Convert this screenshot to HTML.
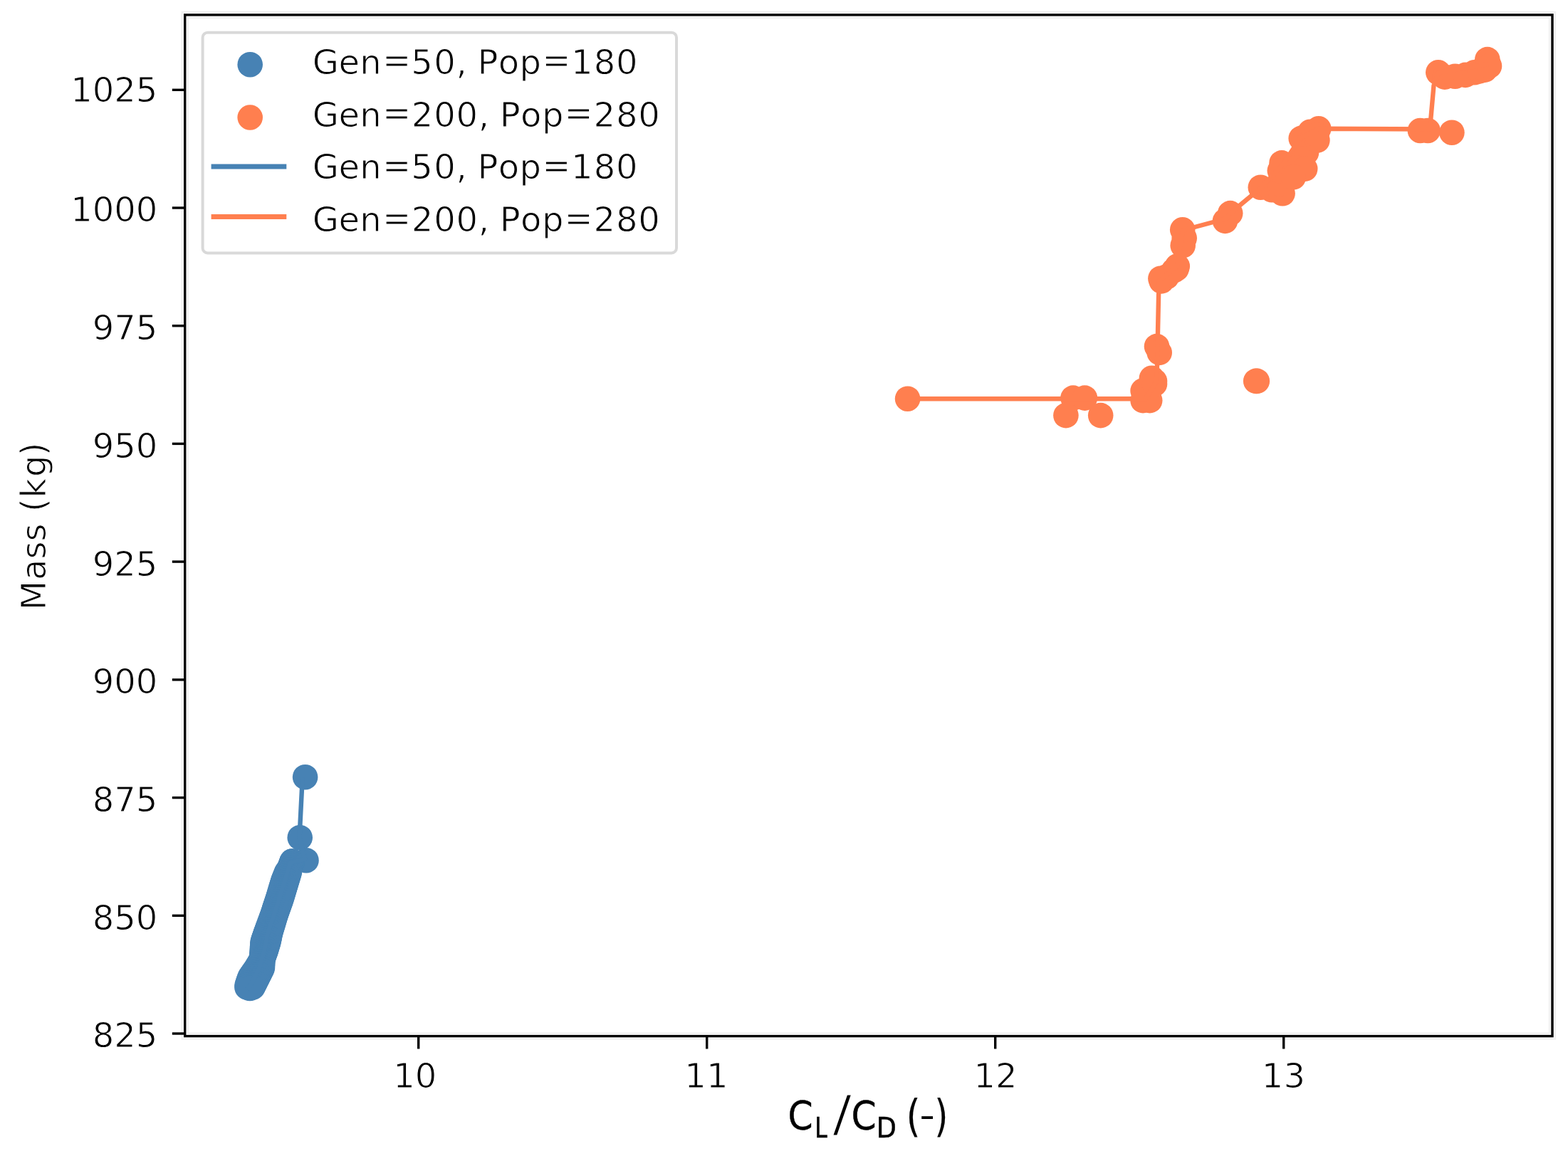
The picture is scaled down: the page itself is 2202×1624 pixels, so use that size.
<!DOCTYPE html>
<html lang="en"><head><meta charset="utf-8"><title>Mass vs CL/CD</title>
<style>
html,body{margin:0;padding:0;background:#fff;}
body{width:2202px;height:1624px;overflow:hidden;}
svg{display:block;}
</style></head><body>
<svg width="2202" height="1624" viewBox="0 0 2202 1624">
<rect width="2202" height="1624" fill="#fff"/>
<defs><filter id="soft" x="0" y="0" width="2202" height="1624" filterUnits="userSpaceOnUse"><feGaussianBlur stdDeviation="0.5"/></filter></defs>
<g filter="url(#soft)">
<rect width="2202" height="1624" fill="#fff"/>
<g fill="none" stroke="#f1f1f1" stroke-width="2.4"><rect x="255.7" y="16.9" width="1928.3" height="1442.6999999999998"/><rect x="263.7" y="24.9" width="1912.3" height="1426.6999999999998"/></g>
<g fill="#4682b4"><circle cx="428.6" cy="1091.7" r="17.8"/><circle cx="421.2" cy="1176.7" r="17.8"/><circle cx="430.0" cy="1208.7" r="17.8"/><circle cx="410.2" cy="1210.0" r="17.8"/><circle cx="410.2" cy="1210.0" r="17.8"/><circle cx="410.2" cy="1211.5" r="17.8"/><circle cx="409.1" cy="1213.0" r="17.8"/><circle cx="409.1" cy="1213.0" r="17.8"/><circle cx="409.1" cy="1214.5" r="17.8"/><circle cx="408.0" cy="1216.0" r="17.8"/><circle cx="408.0" cy="1216.0" r="17.8"/><circle cx="408.0" cy="1217.5" r="17.8"/><circle cx="406.8" cy="1219.0" r="17.8"/><circle cx="406.8" cy="1219.0" r="17.8"/><circle cx="406.8" cy="1220.5" r="17.8"/><circle cx="405.1" cy="1222.0" r="17.8"/><circle cx="406.4" cy="1222.0" r="17.8"/><circle cx="405.7" cy="1223.5" r="17.8"/><circle cx="402.7" cy="1225.0" r="17.8"/><circle cx="406.5" cy="1225.0" r="17.8"/><circle cx="404.6" cy="1226.5" r="17.8"/><circle cx="401.5" cy="1228.0" r="17.8"/><circle cx="405.6" cy="1228.0" r="17.8"/><circle cx="403.6" cy="1229.5" r="17.8"/><circle cx="400.3" cy="1231.0" r="17.8"/><circle cx="404.7" cy="1231.0" r="17.8"/><circle cx="402.5" cy="1232.5" r="17.8"/><circle cx="399.1" cy="1234.0" r="17.8"/><circle cx="403.8" cy="1234.0" r="17.8"/><circle cx="401.5" cy="1235.5" r="17.8"/><circle cx="397.9" cy="1237.0" r="17.8"/><circle cx="402.9" cy="1237.0" r="17.8"/><circle cx="400.4" cy="1238.5" r="17.8"/><circle cx="397.0" cy="1240.0" r="17.8"/><circle cx="402.0" cy="1240.0" r="17.8"/><circle cx="399.5" cy="1241.5" r="17.8"/><circle cx="396.1" cy="1243.0" r="17.8"/><circle cx="401.1" cy="1243.0" r="17.8"/><circle cx="398.6" cy="1244.5" r="17.8"/><circle cx="395.2" cy="1246.0" r="17.8"/><circle cx="400.2" cy="1246.0" r="17.8"/><circle cx="397.7" cy="1247.5" r="17.8"/><circle cx="394.3" cy="1249.0" r="17.8"/><circle cx="399.3" cy="1249.0" r="17.8"/><circle cx="396.8" cy="1250.5" r="17.8"/><circle cx="393.4" cy="1252.0" r="17.8"/><circle cx="398.4" cy="1252.0" r="17.8"/><circle cx="395.9" cy="1253.5" r="17.8"/><circle cx="392.5" cy="1255.0" r="17.8"/><circle cx="397.5" cy="1255.0" r="17.8"/><circle cx="395.0" cy="1256.5" r="17.8"/><circle cx="391.6" cy="1258.0" r="17.8"/><circle cx="396.6" cy="1258.0" r="17.8"/><circle cx="394.1" cy="1259.5" r="17.8"/><circle cx="390.7" cy="1261.0" r="17.8"/><circle cx="395.7" cy="1261.0" r="17.8"/><circle cx="393.2" cy="1262.5" r="17.8"/><circle cx="389.7" cy="1264.0" r="17.8"/><circle cx="394.7" cy="1264.0" r="17.8"/><circle cx="392.2" cy="1265.5" r="17.8"/><circle cx="388.7" cy="1267.0" r="17.8"/><circle cx="393.7" cy="1267.0" r="17.8"/><circle cx="391.2" cy="1268.5" r="17.8"/><circle cx="387.7" cy="1270.0" r="17.8"/><circle cx="392.6" cy="1270.0" r="17.8"/><circle cx="390.2" cy="1271.5" r="17.8"/><circle cx="386.7" cy="1273.0" r="17.8"/><circle cx="391.6" cy="1273.0" r="17.8"/><circle cx="389.1" cy="1274.5" r="17.8"/><circle cx="385.7" cy="1276.0" r="17.8"/><circle cx="390.5" cy="1276.0" r="17.8"/><circle cx="388.1" cy="1277.5" r="17.8"/><circle cx="384.8" cy="1279.0" r="17.8"/><circle cx="389.5" cy="1279.0" r="17.8"/><circle cx="387.1" cy="1280.5" r="17.8"/><circle cx="383.8" cy="1282.0" r="17.8"/><circle cx="388.4" cy="1282.0" r="17.8"/><circle cx="386.1" cy="1283.5" r="17.8"/><circle cx="382.8" cy="1285.0" r="17.8"/><circle cx="387.4" cy="1285.0" r="17.8"/><circle cx="385.1" cy="1286.5" r="17.8"/><circle cx="381.7" cy="1288.0" r="17.8"/><circle cx="386.4" cy="1288.0" r="17.8"/><circle cx="384.1" cy="1289.5" r="17.8"/><circle cx="380.6" cy="1291.0" r="17.8"/><circle cx="385.5" cy="1291.0" r="17.8"/><circle cx="383.0" cy="1292.5" r="17.8"/><circle cx="379.5" cy="1294.0" r="17.8"/><circle cx="384.6" cy="1294.0" r="17.8"/><circle cx="382.0" cy="1295.5" r="17.8"/><circle cx="378.4" cy="1297.0" r="17.8"/><circle cx="383.7" cy="1297.0" r="17.8"/><circle cx="381.0" cy="1298.5" r="17.8"/><circle cx="377.3" cy="1300.0" r="17.8"/><circle cx="382.8" cy="1300.0" r="17.8"/><circle cx="380.0" cy="1301.5" r="17.8"/><circle cx="376.2" cy="1303.0" r="17.8"/><circle cx="381.9" cy="1303.0" r="17.8"/><circle cx="379.0" cy="1304.5" r="17.8"/><circle cx="375.1" cy="1306.0" r="17.8"/><circle cx="381.0" cy="1306.0" r="17.8"/><circle cx="378.0" cy="1307.5" r="17.8"/><circle cx="374.0" cy="1309.0" r="17.8"/><circle cx="380.1" cy="1309.0" r="17.8"/><circle cx="377.0" cy="1310.5" r="17.8"/><circle cx="372.9" cy="1312.0" r="17.8"/><circle cx="379.3" cy="1312.0" r="17.8"/><circle cx="376.1" cy="1313.5" r="17.8"/><circle cx="371.9" cy="1315.0" r="17.8"/><circle cx="378.7" cy="1315.0" r="17.8"/><circle cx="375.3" cy="1316.5" r="17.8"/><circle cx="370.8" cy="1318.0" r="17.8"/><circle cx="378.1" cy="1318.0" r="17.8"/><circle cx="374.5" cy="1319.5" r="17.8"/><circle cx="369.8" cy="1321.0" r="17.8"/><circle cx="377.5" cy="1321.0" r="17.8"/><circle cx="373.7" cy="1322.5" r="17.8"/><circle cx="369.0" cy="1324.0" r="17.8"/><circle cx="376.8" cy="1324.0" r="17.8"/><circle cx="372.9" cy="1325.5" r="17.8"/><circle cx="368.8" cy="1327.0" r="17.8"/><circle cx="375.9" cy="1327.0" r="17.8"/><circle cx="372.4" cy="1328.5" r="17.8"/><circle cx="368.6" cy="1330.0" r="17.8"/><circle cx="375.0" cy="1330.0" r="17.8"/><circle cx="371.8" cy="1331.5" r="17.8"/><circle cx="368.4" cy="1333.0" r="17.8"/><circle cx="374.1" cy="1333.0" r="17.8"/><circle cx="371.3" cy="1334.5" r="17.8"/><circle cx="368.3" cy="1336.0" r="17.8"/><circle cx="373.2" cy="1336.0" r="17.8"/><circle cx="370.7" cy="1337.5" r="17.8"/><circle cx="368.0" cy="1339.0" r="17.8"/><circle cx="372.1" cy="1339.0" r="17.8"/><circle cx="370.0" cy="1340.5" r="17.8"/><circle cx="367.7" cy="1342.0" r="17.8"/><circle cx="371.0" cy="1342.0" r="17.8"/><circle cx="369.3" cy="1343.5" r="17.8"/><circle cx="367.4" cy="1345.0" r="17.8"/><circle cx="370.0" cy="1345.0" r="17.8"/><circle cx="368.7" cy="1346.5" r="17.8"/><circle cx="367.0" cy="1348.0" r="17.8"/><circle cx="368.9" cy="1348.0" r="17.8"/><circle cx="368.0" cy="1349.5" r="17.8"/><circle cx="365.2" cy="1351.0" r="17.8"/><circle cx="368.8" cy="1351.0" r="17.8"/><circle cx="367.0" cy="1352.5" r="17.8"/><circle cx="363.4" cy="1354.0" r="17.8"/><circle cx="368.7" cy="1354.0" r="17.8"/><circle cx="366.0" cy="1355.5" r="17.8"/><circle cx="361.6" cy="1357.0" r="17.8"/><circle cx="368.5" cy="1357.0" r="17.8"/><circle cx="365.1" cy="1358.5" r="17.8"/><circle cx="359.8" cy="1360.0" r="17.8"/><circle cx="368.4" cy="1360.0" r="17.8"/><circle cx="364.1" cy="1361.5" r="17.8"/><circle cx="357.7" cy="1363.0" r="17.8"/><circle cx="367.0" cy="1363.0" r="17.8"/><circle cx="362.4" cy="1364.5" r="17.8"/><circle cx="355.6" cy="1366.0" r="17.8"/><circle cx="365.5" cy="1366.0" r="17.8"/><circle cx="360.6" cy="1367.5" r="17.8"/><circle cx="353.5" cy="1369.0" r="17.8"/><circle cx="364.0" cy="1369.0" r="17.8"/><circle cx="358.8" cy="1370.5" r="17.8"/><circle cx="351.4" cy="1372.0" r="17.8"/><circle cx="362.5" cy="1372.0" r="17.8"/><circle cx="357.0" cy="1373.5" r="17.8"/><circle cx="350.2" cy="1375.0" r="17.8"/><circle cx="361.0" cy="1375.0" r="17.8"/><circle cx="355.6" cy="1376.5" r="17.8"/><circle cx="349.2" cy="1378.0" r="17.8"/><circle cx="359.5" cy="1378.0" r="17.8"/><circle cx="354.4" cy="1379.5" r="17.8"/><circle cx="348.2" cy="1381.0" r="17.8"/><circle cx="358.0" cy="1381.0" r="17.8"/><circle cx="353.1" cy="1382.5" r="17.8"/><circle cx="347.2" cy="1384.0" r="17.8"/><circle cx="356.5" cy="1384.0" r="17.8"/><circle cx="351.8" cy="1385.5" r="17.8"/><circle cx="346.9" cy="1387.0" r="17.8"/><circle cx="355.0" cy="1387.0" r="17.8"/><circle cx="350.9" cy="1388.5" r="17.8"/></g>
<g fill="#ff7f50"><circle cx="1274.6" cy="560.2" r="17.8"/><circle cx="1507.0" cy="559.1" r="17.8"/><circle cx="1523.4" cy="559.1" r="17.8"/><circle cx="1496.9" cy="583.6" r="17.8"/><circle cx="1545.7" cy="583.6" r="17.8"/><circle cx="1609.2" cy="561.3" r="17.8"/><circle cx="1605.1" cy="549.0" r="17.8"/><circle cx="1621.5" cy="535.4" r="17.8"/><circle cx="1613.3" cy="544.9" r="17.8"/><circle cx="1607.8" cy="554.4" r="17.8"/><circle cx="1605.1" cy="562.6" r="17.8"/><circle cx="1614.7" cy="562.6" r="17.8"/><circle cx="1617.4" cy="531.3" r="17.8"/><circle cx="1621.5" cy="539.5" r="17.8"/><circle cx="1763.7" cy="535.4" r="17.8"/><circle cx="1765.3" cy="535.4" r="17.8"/><circle cx="1624.5" cy="486.6" r="17.8"/><circle cx="1628.2" cy="495.4" r="17.8"/><circle cx="1631.1" cy="394.9" r="17.8"/><circle cx="1638.5" cy="388.8" r="17.8"/><circle cx="1648.4" cy="380.1" r="17.8"/><circle cx="1653.3" cy="374.0" r="17.8"/><circle cx="1629.9" cy="391.2" r="17.8"/><circle cx="1652.1" cy="377.7" r="17.8"/><circle cx="1661.2" cy="344.9" r="17.8"/><circle cx="1663.2" cy="334.6" r="17.8"/><circle cx="1660.7" cy="322.8" r="17.8"/><circle cx="1720.5" cy="310.4" r="17.8"/><circle cx="1727.7" cy="299.6" r="17.8"/><circle cx="1770.3" cy="263.2" r="17.8"/><circle cx="1786.3" cy="266.8" r="17.8"/><circle cx="1801.1" cy="271.8" r="17.8"/><circle cx="1994.4" cy="183.5" r="17.8"/><circle cx="2005.2" cy="183.5" r="17.8"/><circle cx="2038.9" cy="186.2" r="17.8"/><circle cx="2019.8" cy="101.8" r="17.8"/><circle cx="2028.9" cy="108.1" r="17.8"/><circle cx="2043.4" cy="107.2" r="17.8"/><circle cx="2057.9" cy="105.4" r="17.8"/><circle cx="2070.6" cy="101.8" r="17.8"/><circle cx="2077.9" cy="99.9" r="17.8"/><circle cx="2085.2" cy="98.1" r="17.8"/><circle cx="2088.8" cy="83.6" r="17.8"/><circle cx="2091.5" cy="92.7" r="17.8"/><circle cx="1851.8" cy="180.8" r="17.8"/><circle cx="1839.9" cy="185.3" r="17.8"/><circle cx="1827.2" cy="194.4" r="17.8"/><circle cx="1834.5" cy="203.5" r="17.8"/><circle cx="1834.5" cy="214.4" r="17.8"/><circle cx="1829.0" cy="223.5" r="17.8"/><circle cx="1821.8" cy="236.2" r="17.8"/><circle cx="1800.0" cy="228.9" r="17.8"/><circle cx="1807.2" cy="232.6" r="17.8"/><circle cx="1798.2" cy="268.9" r="17.8"/><circle cx="1797.3" cy="258.0" r="17.8"/><circle cx="1849.9" cy="197.1" r="17.8"/><circle cx="1832.7" cy="237.1" r="17.8"/><circle cx="1797.3" cy="239.8" r="17.8"/><circle cx="1816.3" cy="248.9" r="17.8"/><circle cx="1849.0" cy="189.0" r="17.8"/></g>
<polyline fill="none" stroke="#4682b4" stroke-width="6.4" stroke-linejoin="round" stroke-linecap="butt" points="424.8,1092.0 420.5,1177.0 428.0,1207.0 408.0,1212.0 400.0,1237.0 384.5,1286.0 376.0,1311.0 371.0,1336.0 364.0,1360.0 351.5,1385.0 347.0,1390.0"/>
<polyline fill="none" stroke="#ff7f50" stroke-width="6.4" stroke-linejoin="round" stroke-linecap="butt" points="1274.1,560.2 1609.0,560.2 1624.5,535.0 1625.5,490.0 1627.5,395.0 1653.0,374.0 1661.0,323.5 1722.5,307.0 1726.0,301.0 1770.0,264.5 1801.0,232.0 1826.0,194.0 1852.0,180.8 2008.0,181.5 2013.5,120.0 2020.0,102.0 2090.0,90.0"/>
<rect x="259.7" y="20.9" width="1920.3" height="1434.6999999999998" fill="none" stroke="#000" stroke-width="3.4"/>
<g stroke="#000" stroke-width="3.4">
<line x1="587.7" y1="1455.6" x2="587.7" y2="1473.5"/>
<line x1="992.7" y1="1455.6" x2="992.7" y2="1473.5"/>
<line x1="1397.7" y1="1455.6" x2="1397.7" y2="1473.5"/>
<line x1="1802.7" y1="1455.6" x2="1802.7" y2="1473.5"/>
<line x1="259.7" y1="1452.0" x2="241.8" y2="1452.0"/>
<line x1="259.7" y1="1286.3" x2="241.8" y2="1286.3"/>
<line x1="259.7" y1="1120.6" x2="241.8" y2="1120.6"/>
<line x1="259.7" y1="954.9" x2="241.8" y2="954.9"/>
<line x1="259.7" y1="789.1" x2="241.8" y2="789.1"/>
<line x1="259.7" y1="623.4" x2="241.8" y2="623.4"/>
<line x1="259.7" y1="457.7" x2="241.8" y2="457.7"/>
<line x1="259.7" y1="292.0" x2="241.8" y2="292.0"/>
<line x1="259.7" y1="126.3" x2="241.8" y2="126.3"/>
</g>
<g font-family="'DejaVu Sans', 'Liberation Sans', sans-serif" font-size="48" fill="#000" stroke="#fff" stroke-width="1.0" style="font-kerning:none">
<text x="582.7" y="1528" text-anchor="middle">10</text>
<text x="991.9" y="1528" text-anchor="middle">11</text>
<text x="1398.1" y="1528" text-anchor="middle">12</text>
<text x="1802.4" y="1528" text-anchor="middle">13</text>
<text x="221.3" y="1471.4" text-anchor="end">825</text>
<text x="221.3" y="1305.7" text-anchor="end">850</text>
<text x="221.3" y="1140.0" text-anchor="end">875</text>
<text x="221.3" y="974.3" text-anchor="end">900</text>
<text x="221.3" y="808.5" text-anchor="end">925</text>
<text x="221.3" y="642.8" text-anchor="end">950</text>
<text x="221.3" y="477.1" text-anchor="end">975</text>
<text x="221.3" y="311.4" text-anchor="end">1000</text>
<text x="221.3" y="142.5" text-anchor="end">1025</text>
<text transform="translate(63.8 860) rotate(-90)" x="2.7 45.1 74.5 99.5 125 141 160.4 190 219.8" y="0">Mass (kg)</text>
</g>
<rect x="284.6" y="45.7" width="665.4" height="309.8" rx="7" ry="7" fill="#fff" fill-opacity="0.8" stroke="#d0d0d0" stroke-opacity="0.8" stroke-width="4"/>
<circle cx="351.2" cy="90.7" r="17.8" fill="#4682b4"/>
<circle cx="351.2" cy="165" r="17.8" fill="#ff7f50"/>
<line x1="296.6" y1="234" x2="402.3" y2="234" stroke="#4682b4" stroke-width="7.0"/>
<line x1="296.6" y1="304.6" x2="402.3" y2="304.6" stroke="#ff7f50" stroke-width="7.0"/>
<g font-family="'DejaVu Sans', 'Liberation Sans', sans-serif" font-size="48" fill="#000" stroke="#fff" stroke-width="1.0" style="font-kerning:none">
<text x="438.8 475.4 505.2 537.1 577.3 609.3 640.4 655.4 670.4 699.8 729.6 761.3 802.1 833.7 864.9" y="103.7 103.7 103.7 101.1 103.7 103.7 103.7 103.7 103.7 103.7 103.7 101.1 103.7 103.7 103.7">Gen=50, Pop=180</text>
<text x="438.8 475.4 505.2 537.1 577.8 609.3 640.6 671.7 686.7 701.7 731.0 760.9 792.6 833.4 865.0 896.2" y="177.5 177.5 177.5 174.9 177.5 177.5 177.5 177.5 177.5 177.5 177.5 177.5 174.9 177.5 177.5 177.5">Gen=200, Pop=280</text>
<text x="438.8 475.4 505.2 537.1 577.3 609.3 640.4 655.4 670.4 699.8 729.6 761.3 802.1 833.7 864.9" y="251.3 251.3 251.3 248.7 251.3 251.3 251.3 251.3 251.3 251.3 251.3 248.7 251.3 251.3 251.3">Gen=50, Pop=180</text>
<text x="438.8 475.4 505.2 537.1 577.8 609.3 640.6 671.7 686.7 701.7 731.0 760.9 792.6 833.4 865.0 896.2" y="325.1 325.1 325.1 322.5 325.1 325.1 325.1 325.1 325.1 325.1 325.1 325.1 322.5 325.1 325.1 325.1">Gen=200, Pop=280</text>
</g>
<text font-family="'DejaVu Sans Condensed', 'DejaVu Sans', 'Liberation Sans', sans-serif" fill="#000" style="font-kerning:none;white-space:pre"><tspan x="1106.40" y="1586.06" font-size="55.97" textLength="35.22" lengthAdjust="spacingAndGlyphs" stroke="#000" stroke-width="0.4" stroke-linejoin="round">C</tspan><tspan x="1144.28" y="1598.25" font-size="39.32" textLength="17.60" lengthAdjust="spacingAndGlyphs" stroke="#000" stroke-width="0.5" stroke-linejoin="round">L</tspan><tspan x="1169.40" y="1588.92" font-size="68.94" textLength="26.26" lengthAdjust="spacingAndGlyphs" stroke="#fff" stroke-width="1.2">/</tspan><tspan x="1195.40" y="1586.06" font-size="55.97" textLength="35.22" lengthAdjust="spacingAndGlyphs" stroke="#000" stroke-width="0.4" stroke-linejoin="round">C</tspan><tspan x="1230.80" y="1598.25" font-size="39.32" textLength="28.09" lengthAdjust="spacingAndGlyphs" stroke="#000" stroke-width="0.5" stroke-linejoin="round">D</tspan><tspan x="1262" y="1586" font-size="40"> </tspan><tspan x="1272.86" y="1588.53" font-size="62.41" textLength="19.66" lengthAdjust="spacingAndGlyphs" stroke="#000" stroke-width="0.2" stroke-linejoin="round">(</tspan><tspan x="1291.29" y="1583.16" font-size="47.50" textLength="21.69" lengthAdjust="spacingAndGlyphs">-</tspan><tspan x="1312.53" y="1588.53" font-size="62.41" textLength="18.72" lengthAdjust="spacingAndGlyphs" stroke="#000" stroke-width="0.2" stroke-linejoin="round">)</tspan></text>
</g>
</svg>
</body></html>
